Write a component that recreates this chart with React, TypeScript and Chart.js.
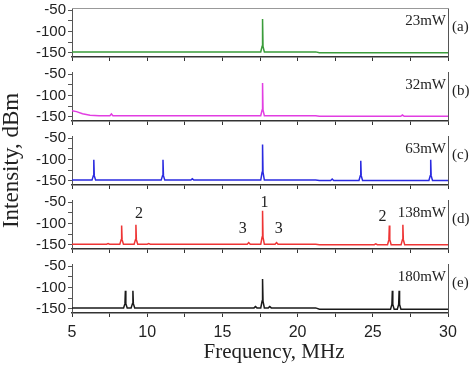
import React, { useEffect, useRef } from 'react';
import { Chart, registerables } from 'chart.js';

Chart.register(...registerables);

// ---------- data ----------
const xTickValues = [5, 7.5, 10, 12.5, 15, 17.5, 20, 22.5, 25, 27.5, 30];
const yTickValues = [-150, -125, -100, -75, -50];

// (a) 23 mW
const freqA = [5, 17.55, 17.64, 17.67, 17.7, 17.79, 21.2, 21.45, 30];
const powA = [-148, -148, -135, -71, -135, -148, -148, -150, -150];

// (b) 32 mW
const freqB = [5, 5.3, 5.7, 6.2, 6.8, 7.52, 7.62, 7.72, 17.55, 17.64, 17.67, 17.7, 17.79, 21.2, 21.45, 26.85, 26.97, 27.09, 30];
const powB = [-136, -138, -143, -146.5, -147.5, -147.5, -143.5, -147.5, -147.5, -134, -71, -134, -147.5, -147.5, -149, -149, -146, -149, -149];

// (c) 63 mW
const freqC = [5, 6.33, 6.42, 6.45, 6.48, 6.57, 10.93, 11.02, 11.05, 11.08, 11.17, 12.9, 13.0, 13.1, 17.55, 17.64, 17.67, 17.7, 17.79, 21.2, 21.45, 22.2, 22.3, 22.4, 24.08, 24.17, 24.2, 24.23, 24.32, 28.73, 28.82, 28.85, 28.88, 28.97, 30];
const powC = [-148.5, -148.5, -138, -101, -138, -148.5, -148.5, -138, -101, -138, -148.5, -148.5, -145.5, -148.5, -148.5, -130, -65, -130, -148.5, -148.5, -149.5, -149.5, -146, -149.5, -149.5, -138, -103, -138, -149.5, -149.5, -138, -101, -138, -149.5, -149.5];

// (d) 138 mW
const freqD = [5, 7.3, 7.4, 7.5, 8.18, 8.27, 8.3, 8.33, 8.42, 9.13, 9.22, 9.25, 9.28, 9.37, 10.0, 10.1, 10.2, 16.65, 16.75, 16.85, 17.55, 17.64, 17.67, 17.7, 17.79, 18.5, 18.6, 18.7, 21.2, 21.45, 25.1, 25.2, 25.3, 25.98, 26.07, 26.1, 26.13, 26.22, 26.88, 26.97, 27.0, 27.03, 27.12, 30];
const powD = [-149, -149, -147.5, -149, -149, -138, -105, -138, -149, -149, -138, -103, -138, -149, -149, -147.5, -149, -149, -145, -149, -149, -132, -70, -132, -149, -149, -145, -149, -149, -150, -150, -148, -150, -150, -138, -105, -138, -150, -150, -138, -103, -138, -150, -150];

// (e) 180 mW
const freqE = [5, 8.43, 8.52, 8.55, 8.58, 8.67, 8.93, 9.02, 9.05, 9.08, 9.17, 17.1, 17.2, 17.3, 17.55, 17.64, 17.67, 17.7, 17.79, 18.05, 18.15, 18.25, 21.2, 21.45, 26.18, 26.27, 26.3, 26.33, 26.42, 26.63, 26.72, 26.75, 26.78, 26.87, 30];
const powE = [-148, -148, -138, -108, -138, -148, -148, -138, -108, -138, -148, -148, -145, -148, -148, -132, -80, -132, -148, -148, -145, -148, -148, -151, -151, -140, -108, -140, -151, -151, -140, -108, -140, -151, -151];

const powerLabels = ['23mW', '32mW', '63mW', '138mW', '180mW'];
const panelLetters = ['(a)', '(b)', '(c)', '(d)', '(e)'];

// peak labels of panel (d)
const peakLabelText = ['2', '3', '1', '3', '2'];
const peakLabelFreq = [9.45, 16.35, 17.8, 18.75, 25.65];
const peakLabelPow = [-78, -113, -51, -113, -85];

const freqs = [freqA, freqB, freqC, freqD, freqE];
const pows = [powA, powB, powC, powD, powE];

// ---------- styles ----------
const lineColors = ['#3a9c3a', '#e23ee2', '#2a2ae0', '#ee3434', '#1a1a1a'];
const W = 474;
const H = 370;
const PANEL_TOPS = [8, 72, 136, 200, 264];
const PLOT_H = 49;
const PLOT_LEFT = 72;
const PLOT_RIGHT_PAD = 26;
const SANS = '"Liberation Sans", Arial, sans-serif';
const SERIF = '"Liberation Serif", "Times New Roman", serif';
const TEXT = '#222';

function panelTextPlugin(i: number) {
  return {
    id: 'panelText' + i,
    afterDraw(chart: any) {
      const { ctx, chartArea } = chart;
      ctx.save();
      ctx.fillStyle = TEXT;
      ctx.textBaseline = 'middle';
      ctx.font = '15px ' + SERIF;
      ctx.textAlign = 'right';
      ctx.fillText(powerLabels[i], chartArea.right - 2, chartArea.top + 13);
      ctx.textAlign = 'left';
      ctx.fillText(panelLetters[i], chartArea.right + 4, chartArea.top + 19);
      if (i === 3) {
        const xs = chart.scales.x;
        const ys = chart.scales.y;
        ctx.textAlign = 'center';
        ctx.font = '16px ' + SERIF;
        peakLabelText.forEach((t, k) => {
          ctx.fillText(t, xs.getPixelForValue(peakLabelFreq[k]), ys.getPixelForValue(peakLabelPow[k]));
        });
      }
      if (i === 4) {
        ctx.font = '21px ' + SERIF;
        ctx.textAlign = 'center';
        ctx.fillText('Frequency, MHz', (chartArea.left + chartArea.right) / 2 + 14, 352);
      }
      ctx.restore();
    },
  };
}

function makeConfig(i: number): any {
  const isBottom = i === 4;
  const top = PANEL_TOPS[i];
  const xAxisH = isBottom ? H - (top + PLOT_H) : 6;
  const padBottom = H - top - PLOT_H - xAxisH;
  const data = freqs[i].map((f, k) => ({ x: f, y: pows[i][k] }));

  const scales: any = {
    x: {
      type: 'linear',
      position: 'bottom',
      min: 5,
      max: 30,
      afterBuildTicks: (s: any) => {
        s.ticks = xTickValues.map((v) => ({ value: v }));
      },
      afterFit: (s: any) => {
        s.height = xAxisH;
        s.paddingLeft = 0;
        s.paddingRight = 0;
      },
      ticks: {
        display: isBottom,
        autoSkip: false,
        maxRotation: 0,
        padding: 6,
        color: TEXT,
        font: { family: SANS, size: 16 },
        callback: (v: any) => (Number(v) % 5 === 0 ? String(v) : ''),
      },
      grid: { display: true, drawOnChartArea: false, drawTicks: true, tickLength: 4, color: '#333' },
      border: { display: true, color: '#333', width: 1.5 },
    },
    y: {
      type: 'linear',
      position: 'left',
      min: -160,
      max: -45,
      afterBuildTicks: (s: any) => {
        s.ticks = yTickValues.map((v) => ({ value: v }));
      },
      afterFit: (s: any) => {
        s.width = PLOT_LEFT;
        s.paddingTop = 0;
        s.paddingBottom = 0;
      },
      ticks: {
        autoSkip: false,
        padding: 2,
        color: TEXT,
        font: { family: SANS, size: 15 },
        callback: (v: any) => (Number(v) % 50 === 0 ? String(v) : ''),
      },
      grid: { display: true, drawOnChartArea: false, drawTicks: true, tickLength: 4, color: '#555' },
      border: { display: true, color: '#555', width: 1 },
      title: {
        display: i === 2,
        text: 'Intensity, dBm',
        color: TEXT,
        font: { family: SERIF, size: 23, lineHeight: 1 },
        padding: 0,
      },
    },
    yr: {
      type: 'linear',
      position: 'right',
      min: -160,
      max: -45,
      afterFit: (s: any) => {
        s.width = 0;
        s.paddingTop = 0;
        s.paddingBottom = 0;
      },
      ticks: { display: false },
      grid: { display: false },
      border: { display: true, color: '#555', width: 1 },
    },
  };
  if (i === 0) {
    scales.xt = {
      type: 'linear',
      position: 'top',
      min: 5,
      max: 30,
      afterFit: (s: any) => {
        s.height = 0;
        s.paddingLeft = 0;
        s.paddingRight = 0;
      },
      ticks: { display: false },
      grid: { display: false },
      border: { display: true, color: '#999', width: 1 },
    };
  }

  return {
    type: 'line',
    data: {
      datasets: [
        {
          data,
          borderColor: lineColors[i],
          borderWidth: 1.5,
          pointRadius: 0,
          fill: false,
          tension: 0,
        },
      ],
    },
    options: {
      animation: false,
      responsive: false,
      events: [],
      layout: { padding: { left: 0, right: PLOT_RIGHT_PAD, top, bottom: padBottom } },
      plugins: { legend: { display: false }, tooltip: { enabled: false } },
      scales,
    },
    plugins: [panelTextPlugin(i)],
  };
}

export default function App() {
  const refs = useRef<(HTMLCanvasElement | null)[]>([]);
  useEffect(() => {
    const charts = PANEL_TOPS.map((_, i) => new Chart(refs.current[i] as HTMLCanvasElement, makeConfig(i)));
    return () => charts.forEach((c) => c.destroy());
  }, []);
  return (
    <div style={{ position: 'fixed', left: 0, top: 0, width: W, height: H, background: '#fff' }}>
      {PANEL_TOPS.map((_, i) => (
        <canvas
          key={i}
          ref={(el) => {
            refs.current[i] = el;
          }}
          width={W}
          height={H}
          style={{ position: 'absolute', left: 0, top: 0, width: W, height: H }}
        />
      ))}
    </div>
  );
}
